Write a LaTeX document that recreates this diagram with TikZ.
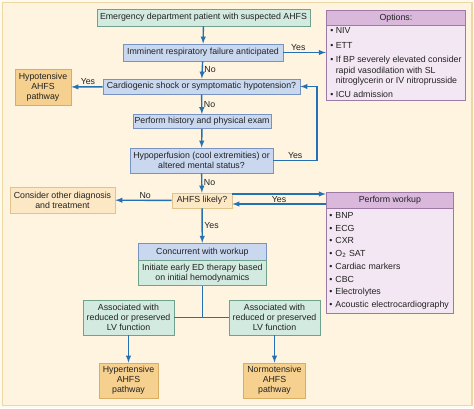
\documentclass[tikz,border=0pt]{standalone}
\usepackage{fontspec}
\setmainfont{Liberation Sans}
\usetikzlibrary{fit,arrows}

\definecolor{pagecream}{HTML}{FFFAEE}
\definecolor{bgcream}{HTML}{FEF4E0}
\definecolor{frametan}{HTML}{EDD7A3}
\definecolor{textgray}{HTML}{222222}
\definecolor{arrowblue}{HTML}{2470B5}
\definecolor{bluefill}{HTML}{C9D7EF}
\definecolor{blueline}{HTML}{7893C2}
\definecolor{greenfill}{HTML}{D3EAE0}
\definecolor{greenline}{HTML}{6FA28D}
\definecolor{orangefill}{HTML}{F6D08E}
\definecolor{orangeline}{HTML}{D9AE62}
\definecolor{tanfill}{HTML}{FCE8C4}
\definecolor{tanline}{HTML}{E0C48C}
\definecolor{purplehead}{HTML}{D9B8DC}
\definecolor{purplefill}{HTML}{F3E7F3}
\definecolor{purpleline}{HTML}{9C79A6}

\tikzset{
    box/.style={draw, line width=0.8pt, inner sep=1pt, align=center},
    bluebox/.style={box, draw=blueline, fill=bluefill},
    greenbox/.style={box, draw=greenline, fill=greenfill},
    orangebox/.style={box, draw=orangeline, fill=orangefill},
    tanbox/.style={box, draw=tanline, fill=tanfill},
    headbox/.style={box, draw=purpleline, fill=purplehead},
    listbox/.style={box, draw=purpleline, fill=purplefill, align=left, inner sep=2pt},
    flow/.style={draw=arrowblue, line width=1.4pt},
    answer/.style={inner sep=1.5pt, text=textgray},
}

\begin{document}
\begin{tikzpicture}[x=1pt, y=-1pt, >=latex,
        every node/.append style={font=\fontsize{8.8}{10.2}\selectfont, text=textgray}]
    \useasboundingbox (0,0) rectangle (474,408);
    \fill[pagecream] (0,0) rectangle (474,408);
    \draw[fill=bgcream, draw=frametan, line width=1.4pt] (2.5,2.5) rectangle (472,405.5);

    % main column
    \node[greenbox, minimum width=213, minimum height=17] (Patient) at (203.5,17.5) {Emergency department patient with suspected AHFS};
    \node[bluebox, minimum width=160, minimum height=17] (Failure) at (203,52.5) {Imminent respiratory failure anticipated};
    \node[bluebox, minimum width=197, minimum height=15] (Shock) at (201.5,86.5) {Cardiogenic shock or symptomatic hypotension?};
    \node[bluebox, minimum width=138, minimum height=14] (History) at (202,121.5) {Perform history and physical exam};
    \node[bluebox, minimum width=143, minimum height=25] (Hypoperfusion) at (201.5,160.5) {Hypoperfusion (cool extremities) or\\altered mental status?};
    \node[tanbox, minimum width=60, minimum height=15] (Likely) at (202,200.5) {AHFS likely?};

    % side boxes
    \node[orangebox, minimum width=56, minimum height=36] (Hypotensive) at (43,87) {Hypotensive\\AHFS\\pathway};
    \node[tanbox, minimum width=105, minimum height=26] (Other) at (62.5,200) {Consider other diagnosis\\and treatment};

    \node[headbox, minimum width=139, minimum height=15, anchor=north west] (OptionsHead) at (326,10) {Options:};
    \node[listbox, minimum width=139, minimum height=74, anchor=north west] (OptionsList) at (326,25) {%
        \textbullet\ NIV\\[4.5pt]
        \textbullet\ ETT\\[4.5pt]
        \textbullet\ If BP severely elevated consider\\
        \phantom{\textbullet\ }rapid vasodilation with SL\\
        \phantom{\textbullet\ }nitroglycerin or IV nitroprusside\\[4.5pt]
        \textbullet\ ICU admission};
    \node[fit=(OptionsHead)(OptionsList), inner sep=0pt] (Options) {};

    \node[headbox, minimum width=127, minimum height=16, anchor=north west] (WorkupHead) at (326,192) {Perform workup};
    \node[listbox, text width=121, minimum height=105, anchor=north west, inner sep=3pt] (WorkupList) at (326,208) {%
        \textbullet\ BNP\\[2.5pt]
        \textbullet\ ECG\\[2.5pt]
        \textbullet\ CXR\\[2.5pt]
        \textbullet\ O\textsubscript{2} SAT\\[2.5pt]
        \textbullet\ Cardiac markers\\[2.5pt]
        \textbullet\ CBC\\[2.5pt]
        \textbullet\ Electrolytes\\[2.5pt]
        \textbullet\ Acoustic electrocardiography};
    \node[fit=(WorkupHead)(WorkupList), inner sep=0pt] (Workup) {};

    % therapy and pathways
    \node[bluebox, minimum width=128, minimum height=17, anchor=north west] (ConcurrentHead) at (138,243) {Concurrent with workup};
    \node[greenbox, minimum width=128, minimum height=25, anchor=north west] (Therapy) at (138,260) {Initiate early ED therapy based\\on initial hemodynamics};
    \node[fit=(ConcurrentHead)(Therapy), inner sep=0pt] (Concurrent) {};

    \node[greenbox, minimum width=91, minimum height=35] (LeftLV) at (128.5,317.5) {Associated with\\reduced or preserved\\LV function};
    \node[greenbox, minimum width=91, minimum height=35] (RightLV) at (274.5,317.5) {Associated with\\reduced or preserved\\LV function};
    \node[orangebox, minimum width=59, minimum height=35] (Hypertensive) at (128.5,380.5) {Hypertensive\\AHFS\\pathway};
    \node[orangebox, minimum width=62, minimum height=35] (Normotensive) at (274.5,380.5) {Normotensive\\AHFS\\pathway};

    % connectors
    \draw[->,flow] (Patient) to (Failure);
    \draw[->,flow] (Failure) to node[answer,right] {No} (Shock);
    \draw[->,flow] (Failure.east) to node[answer,above,pos=0.35] {Yes} (Failure.east -| Options.west);
    \draw[->,flow] (Shock) to node[answer,right] {No} (History);
    \draw[->,flow] (Shock) to node[answer,above,pos=0.47] {Yes} (Hypotensive);
    \draw[->,flow] (History) to (Hypoperfusion);
    \draw[->,flow] (Hypoperfusion.east) -- node[answer,above,pos=0.5] {Yes} (317,160.5) |- (Shock.east);
    \draw[->,flow] (Hypoperfusion) to node[answer,right] {No} (Likely);
    \draw[->,flow] (Likely) to node[answer,above,pos=0.47] {No} (Other);
    \draw[->,flow] ([yshift=6.5pt]Likely.east) to ([yshift=6.5pt]Likely.east -| Workup.west);
    \draw[<-,flow] ([yshift=-3.5pt]Likely.east) to node[answer,above,inner sep=0.5pt] {Yes} ([yshift=-3.5pt]Likely.east -| Workup.west);
    \draw[->,flow] (Likely) to node[answer,right] {Yes} (Concurrent);
    \draw[flow] (LeftLV) to (RightLV);
    \draw[flow] (Concurrent) to (Concurrent |- LeftLV);
    \draw[->,flow] (LeftLV) to (Hypertensive);
    \draw[->,flow] (RightLV) to (Normotensive);
\end{tikzpicture}
\end{document}
